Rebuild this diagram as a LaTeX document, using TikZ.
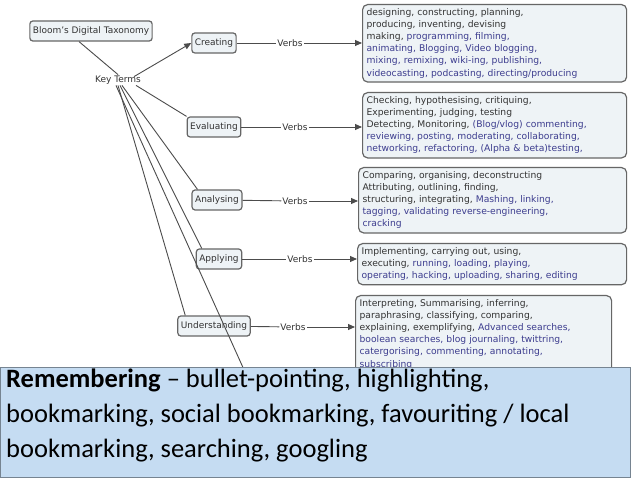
\documentclass[tikz,border=0pt]{standalone}
\usepackage{fontspec}
\setmainfont{DejaVu Sans}
\newfontfamily\calib{Carlito}
\usetikzlibrary{arrows.meta}
\definecolor{bl}{HTML}{3C3C8E}
\definecolor{tx}{HTML}{333333}
\definecolor{bx}{HTML}{EEF3F6}
\definecolor{ov}{HTML}{C5DCF2}
\tikzset{x=1pt,y=-1pt,
 term/.style={draw=black!60,line width=1.2pt,rounded corners=3pt,fill=bx,text=tx,font=\fontsize{9}{10}\selectfont,inner sep=3pt,minimum height=20pt},
 verb/.style={text=tx,font=\fontsize{9}{10}\selectfont,inner sep=1pt},
 lst/.style={draw=black!60,line width=1.2pt,rounded corners=5pt,fill=bx,text=tx,font=\fontsize{9.2}{12.1}\selectfont,align=left,anchor=north west,inner sep=4pt},
 ln/.style={draw=black!70,line width=0.9pt},
 ar/.style={ln,-{Triangle[length=7pt,width=6pt]}}}
\begin{document}
\begin{tikzpicture}
\useasboundingbox (0,0) rectangle (638,478);
\fill[white] (0,0) rectangle (638,478);
\node[term] (bdt) at (91,31) {Bloom's Digital Taxonomy};
\node[verb] (kt) at (118,80) {Key Terms};
\node[term] (cr) at (214,43) {Creating};
\node[term] (ev) at (214,127) {Evaluating};
\node[term] (an) at (217,200) {Analysing};
\node[term] (ap) at (219,259) {Applying};
\node[term] (un) at (214,326) {Understanding};
\coordinate (re) at (245,372);
\node[verb] (v1) at (290,43) {Verbs};
\node[verb] (v2) at (295,127) {Verbs};
\node[verb] (v3) at (295,201) {Verbs};
\node[verb] (v4) at (300,259) {Verbs};
\node[verb] (v5) at (293,327) {Verbs};
\node[lst,text width=256pt] (l1) at (362,4) {designing, constructing, planning,\\producing, inventing, devising\\making, \textcolor{bl}{programming, filming,}\\\textcolor{bl}{animating, Blogging, Video blogging,}\\\textcolor{bl}{mixing, remixing, wiki-ing, publishing,}\\\textcolor{bl}{videocasting, podcasting, directing/producing}};
\node[lst,text width=256pt] (l2) at (362,92) {Checking, hypothesising, critiquing,\\Experimenting, judging, testing\\Detecting, Monitoring, \textcolor{bl}{(Blog/vlog) commenting,}\\\textcolor{bl}{reviewing, posting, moderating, collaborating,}\\\textcolor{bl}{networking, refactoring, (Alpha \& beta)testing,}};
\node[lst,text width=260pt] (l3) at (358,167) {Comparing, organising, deconstructing\\Attributing, outlining, finding,\\structuring, integrating, \textcolor{bl}{Mashing, linking,}\\\textcolor{bl}{tagging, validating reverse-engineering,}\\\textcolor{bl}{cracking}};
\node[lst,text width=261pt] (l4) at (357,243) {Implementing, carrying out, using,\\executing, \textcolor{bl}{running, loading, playing,}\\\textcolor{bl}{operating, hacking, uploading, sharing, editing}};
\node[lst,text width=248pt] (l5) at (355,295) {Interpreting, Summarising, inferring,\\paraphrasing, classifying, comparing,\\explaining, exemplifying, \textcolor{bl}{Advanced searches,}\\\textcolor{bl}{boolean searches, blog journaling, twittring,}\\\textcolor{bl}{catergorising, commenting, annotating,}\\\textcolor{bl}{subscribing}};
\draw[ln] (bdt.south) ++(-12,0) -- (kt.north);
\draw[ar] (kt.north east) ++(-8,2) -- (cr.west);
\draw[ln] (kt.south east) ++(-6,0) -- (ev.north west);
\draw[ln] (kt.south) ++(4,0) -- ([xshift=6pt]an.north west);
\draw[ln] (kt.south) ++(2,0) -- ([xshift=6pt]ap.north west);
\draw[ln] (kt.south) ++(0,0) -- ([xshift=8pt]un.north west);
\draw[ln] (kt.south) ++(-2,0) -- (re);
\foreach \t/\v/\l in {cr/v1/l1,ev/v2/l2,an/v3/l3,ap/v4/l4,un/v5/l5}{
 \draw[ln] (\t) -- (\v);
 \draw[ar] (\v.east) -- (\l.west |- \v);
}
\node[draw=ov!60!black,line width=1pt,fill=ov,minimum width=630pt,minimum height=110pt,anchor=north west,inner sep=0pt] (ovb) at (0,367) {};
\node[anchor=north west,align=left,font=\calib\fontsize{26.5}{35}\selectfont,inner sep=0pt] (rem) at (6,369) {\textbf{Remembering} – bullet-pointing, highlighting,\\bookmarking, social bookmarking, favouriting / local\\bookmarking, searching, googling};
\end{tikzpicture}
\end{document}
